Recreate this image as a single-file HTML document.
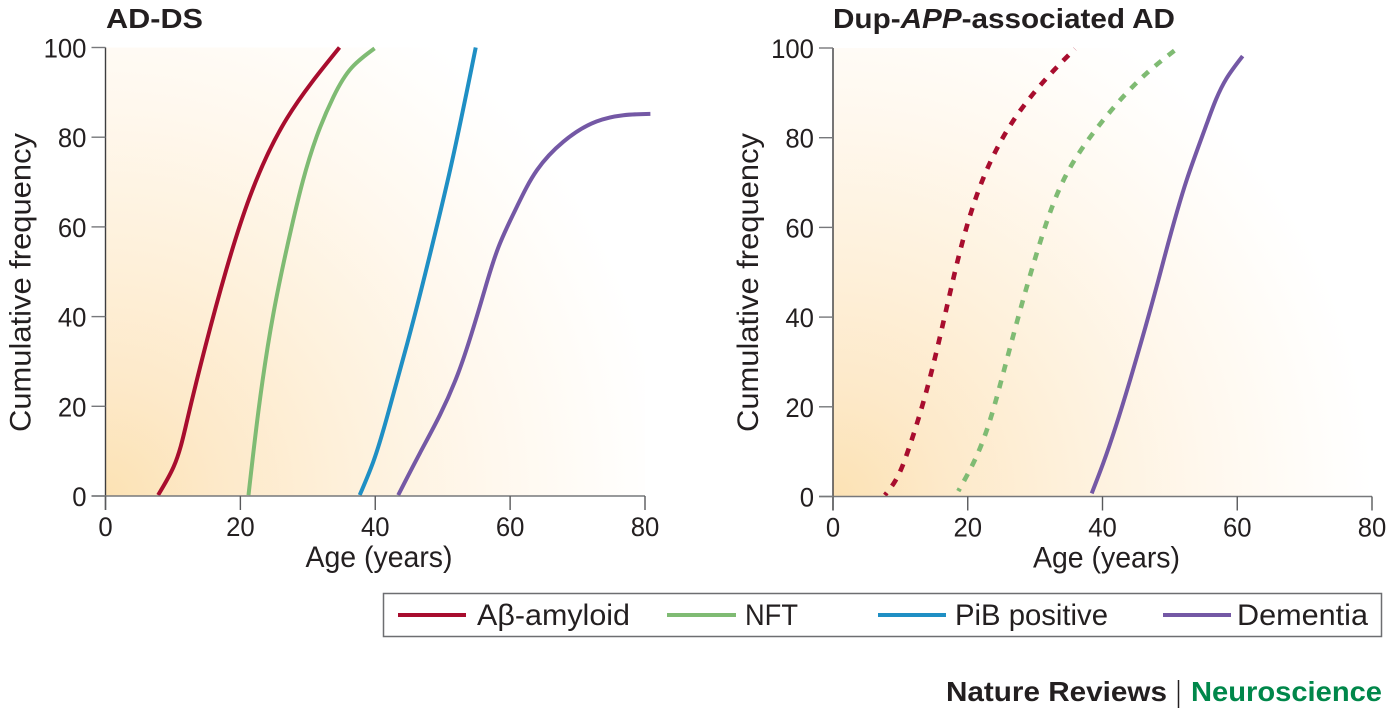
<!DOCTYPE html>
<html><head><meta charset="utf-8">
<style>
html,body{margin:0;padding:0;background:#fff;width:1395px;height:716px;overflow:hidden}
svg{display:block}
text{font-family:"Liberation Sans",sans-serif;fill:#231f20}
</style></head>
<body>
<svg id="chart" width="1395" height="716" viewBox="0 0 1395 716" xmlns="http://www.w3.org/2000/svg">
<defs>
<radialGradient id="glowA" gradientUnits="userSpaceOnUse" cx="105" cy="496" r="560">
<stop offset="0" stop-color="#fce2b4"/><stop offset="0.2" stop-color="#fde9c9"/><stop offset="0.45" stop-color="#fef1dc"/><stop offset="0.7" stop-color="#fff8ee"/><stop offset="0.9" stop-color="#fffdfa"/><stop offset="1" stop-color="#ffffff"/>
</radialGradient>
<radialGradient id="glowB" gradientUnits="userSpaceOnUse" cx="833" cy="497" r="540">
<stop offset="0" stop-color="#fce2b4"/><stop offset="0.2" stop-color="#fde9c9"/><stop offset="0.45" stop-color="#fef1dc"/><stop offset="0.7" stop-color="#fff8ee"/><stop offset="0.9" stop-color="#fffdfa"/><stop offset="1" stop-color="#ffffff"/>
</radialGradient>
</defs>
<g id="plots"></g>
<text x="106" y="28" font-size="28" font-weight="bold" textLength="97" lengthAdjust="spacingAndGlyphs">AD-DS</text>
<text x="833" y="28" font-size="28" font-weight="bold" textLength="342" lengthAdjust="spacingAndGlyphs">Dup-<tspan font-style="italic">APP</tspan>-associated AD</text>
<g>
<rect x="383.5" y="593.5" width="998" height="43" fill="#fff" stroke="#6d6e71" stroke-width="1.5"/>
<line x1="398" x2="466" y1="615" y2="615" stroke="#a80d2e" stroke-width="4"/>
<text x="477" y="625" font-size="30" textLength="153" lengthAdjust="spacingAndGlyphs">Aβ-amyloid</text>
<line x1="667" x2="736" y1="615" y2="615" stroke="#7fbb73" stroke-width="4"/>
<text x="745" y="625" font-size="30" textLength="53" lengthAdjust="spacingAndGlyphs">NFT</text>
<line x1="878" x2="946" y1="615" y2="615" stroke="#1f8fc4" stroke-width="4"/>
<text x="955" y="625" font-size="30" textLength="153" lengthAdjust="spacingAndGlyphs">PiB positive</text>
<line x1="1163" x2="1231" y1="615" y2="615" stroke="#7458a5" stroke-width="4"/>
<text x="1237" y="625" font-size="30" textLength="131" lengthAdjust="spacingAndGlyphs">Dementia</text>
</g>
<text x="946" y="701" font-size="28" font-weight="bold" textLength="221" lengthAdjust="spacingAndGlyphs">Nature Reviews</text>
<line x1="1178.5" x2="1178.5" y1="680" y2="708" stroke="#231f20" stroke-width="1.5"/>
<text x="1191" y="701" font-size="28" font-weight="bold" textLength="191" lengthAdjust="spacingAndGlyphs" style="fill:#00874a">Neuroscience</text>
</svg>
<script>
const xTicks = [0, 20, 40, 60, 80];
const yTicks = [0, 20, 40, 60, 80, 100];

// AD-DS series: ages and cumulative frequency
const dsAmyloidAge = [7.8, 10.1, 12.0, 14.8, 17.9, 21.4, 26.9, 34.7];
const dsAmyloidFreq = [0.2, 6.5, 16.2, 33.3, 50.4, 66.7, 84.2, 100];
const dsNftAge = [21.2, 22.7, 24.9, 27.6, 31.3, 33.8, 36.5, 39.9];
const dsNftFreq = [0.2, 19.2, 40.7, 60, 80.1, 89, 95.5, 99.8];
const dsPibAge = [37.7, 39.7, 42.1, 45.4, 48.4, 51.1, 54.9];
const dsPibFreq = [0.2, 7.6, 19.5, 37.7, 55.6, 72.7, 100];
const dsDementiaAge = [43.4, 46.6, 49.6, 52.3, 54.3, 56.1, 58.3, 61, 64, 67.9, 72.8, 76.8, 80.8];
const dsDementiaFreq = [0.2, 9.5, 18.1, 27.4, 36.3, 45.3, 55.6, 64.5, 72.7, 79, 83.5, 84.9, 85.2];

// Dup-APP series
const dupAmyloidAge = [7.7, 9, 11, 13.9, 16.9, 19.1, 22.1, 26.5, 32.7, 35.9];
const dupAmyloidFreq = [0.3, 2.9, 9.6, 23.7, 42.3, 56.1, 70.2, 83.2, 94.9, 99.8];
const dupNftAge = [18.6, 21.1, 25, 28.2, 31, 34.6, 40.1, 46.8, 51];
const dupNftFreq = [1.2, 8.3, 26, 43.8, 57.9, 71.7, 83.9, 94.7, 99.8];
const dupDementiaAge = [38.4, 40.1, 44.1, 48.3, 52.5, 55.5, 58.4, 60.8];
const dupDementiaFreq = [0.7, 7.4, 26, 48.3, 70.6, 83.2, 93.2, 98.2];

const NS = "http://www.w3.org/2000/svg";
const root = document.getElementById("plots");

function makeEl(tag, attrs, parent) {
  const el = document.createElementNS(NS, tag);
  for (const k in attrs) el.setAttribute(k, attrs[k]);
  parent.appendChild(el);
  return el;
}

// Natural cubic spline slopes with non-uniform knots h (Thomas algorithm)
function splineSlopes(v, h) {
  const n = v.length;
  const a = new Array(n).fill(0), b = new Array(n).fill(0), c = new Array(n).fill(0), r = new Array(n).fill(0);
  b[0] = 2 / h[0]; c[0] = 1 / h[0]; r[0] = 3 * (v[1] - v[0]) / (h[0] * h[0]);
  for (let i = 1; i < n - 1; i++) {
    a[i] = 1 / h[i - 1];
    b[i] = 2 / h[i - 1] + 2 / h[i];
    c[i] = 1 / h[i];
    r[i] = 3 * ((v[i] - v[i - 1]) / (h[i - 1] * h[i - 1]) + (v[i + 1] - v[i]) / (h[i] * h[i]));
  }
  a[n - 1] = 1 / h[n - 2]; b[n - 1] = 2 / h[n - 2]; r[n - 1] = 3 * (v[n - 1] - v[n - 2]) / (h[n - 2] * h[n - 2]);
  for (let i = 1; i < n; i++) {
    const m = a[i] / b[i - 1];
    b[i] -= m * c[i - 1];
    r[i] -= m * r[i - 1];
  }
  const s = new Array(n);
  s[n - 1] = r[n - 1] / b[n - 1];
  for (let i = n - 2; i >= 0; i--) s[i] = (r[i] - c[i] * s[i + 1]) / b[i];
  return s;
}

function smoothPath(pts) {
  const h = [];
  for (let i = 0; i < pts.length - 1; i++) h.push(Math.hypot(pts[i + 1][0] - pts[i][0], pts[i + 1][1] - pts[i][1]));
  const sx = splineSlopes(pts.map(p => p[0]), h);
  const sy = splineSlopes(pts.map(p => p[1]), h);
  let d = "M" + pts[0][0].toFixed(1) + " " + pts[0][1].toFixed(1);
  for (let i = 0; i < pts.length - 1; i++) {
    const t = h[i] / 3;
    d += "C" + (pts[i][0] + sx[i] * t).toFixed(2) + " " + (pts[i][1] + sy[i] * t).toFixed(2) + " " +
      (pts[i + 1][0] - sx[i + 1] * t).toFixed(2) + " " + (pts[i + 1][1] - sy[i + 1] * t).toFixed(2) + " " +
      pts[i + 1][0].toFixed(2) + " " + pts[i + 1][1].toFixed(2);
  }
  return d;
}

function drawPanel(name, left, right, bottom, top, glow, series) {
  const xScale = v => left + (v / 80) * (right - left);
  const yScale = v => bottom - (v / 100) * (bottom - top);
  const g = makeEl("g", {}, root);
  
  

  const bg = makeEl("rect", {x: left, y: top, width: right - left, height: bottom - top, fill: "url(#" + glow + ")"}, g);
  
  

  series.forEach(s => {
    const pts = s.age.map((a, i) => [xScale(a), yScale(s.freq[i])]);
    const attrs = {d: smoothPath(pts), fill: "none", stroke: s.color, "stroke-width": s.dash ? 4.6 : 4};
    if (s.dash) {
      attrs["stroke-dasharray"] = "8 8.6";
      attrs["stroke-dashoffset"] = "5";
    }
    const p = makeEl("path", attrs, g);
    
    
  });

  const yAxis = makeEl("line", {x1: left, x2: left, y1: top, y2: bottom + 14, stroke: "#3d3d3f", "stroke-width": 1.4}, g);
  
  
  const xAxis = makeEl("line", {x1: left - 14, x2: right, y1: bottom, y2: bottom, stroke: "#77787b", "stroke-width": 1.4}, g);
  
  

  xTicks.forEach(t => {
    const x = xScale(t);
    const tick = makeEl("line", {x1: x, x2: x, y1: bottom, y2: bottom + 14, stroke: "#58595b", "stroke-width": 1.4}, g);
    
    
    const label = makeEl("text", {x: x, y: bottom + 40, "font-size": 27, "text-anchor": "middle", textLength: String(t).length * 14.3, lengthAdjust: "spacingAndGlyphs"}, g);
    
    
    label.textContent = t;
  });
  yTicks.forEach(t => {
    const y = yScale(t);
    const tick = makeEl("line", {x1: left - 14, x2: left, y1: y, y2: y, stroke: "#77787b", "stroke-width": 1.4}, g);
    
    
    const label = makeEl("text", {x: left - 19, y: y + 10, "font-size": 27, "text-anchor": "end", textLength: String(t).length * 14.3, lengthAdjust: "spacingAndGlyphs"}, g);
    
    
    label.textContent = t;
  });

  const xTitle = makeEl("text", {x: left + 200, y: bottom + 71, "font-size": 30, textLength: 147, lengthAdjust: "spacingAndGlyphs"}, g);
  
  
  xTitle.textContent = "Age (years)";

  const yTitle = makeEl("text", {transform: "translate(" + (left - 75) + " 432) rotate(-90)", "font-size": 30, textLength: 299, lengthAdjust: "spacingAndGlyphs"}, g);
  
  
  yTitle.textContent = "Cumulative frequency";
}

const RED = "#a80d2e", GREEN = "#7fbb73", BLUE = "#1f8fc4", PURPLE = "#7458a5";

drawPanel("ad-ds", 105.5, 645, 496, 47.5, "glowA", [
  {key: "amyloid", age: dsAmyloidAge, freq: dsAmyloidFreq, color: RED},
  {key: "nft", age: dsNftAge, freq: dsNftFreq, color: GREEN},
  {key: "pib", age: dsPibAge, freq: dsPibFreq, color: BLUE},
  {key: "dementia", age: dsDementiaAge, freq: dsDementiaFreq, color: PURPLE}
]);
drawPanel("dup-app", 833, 1372, 496.5, 48, "glowB", [
  {key: "amyloid", age: dupAmyloidAge, freq: dupAmyloidFreq, color: RED, dash: true},
  {key: "nft", age: dupNftAge, freq: dupNftFreq, color: GREEN, dash: true},
  {key: "dementia", age: dupDementiaAge, freq: dupDementiaFreq, color: PURPLE}
]);
</script>
</body></html>
